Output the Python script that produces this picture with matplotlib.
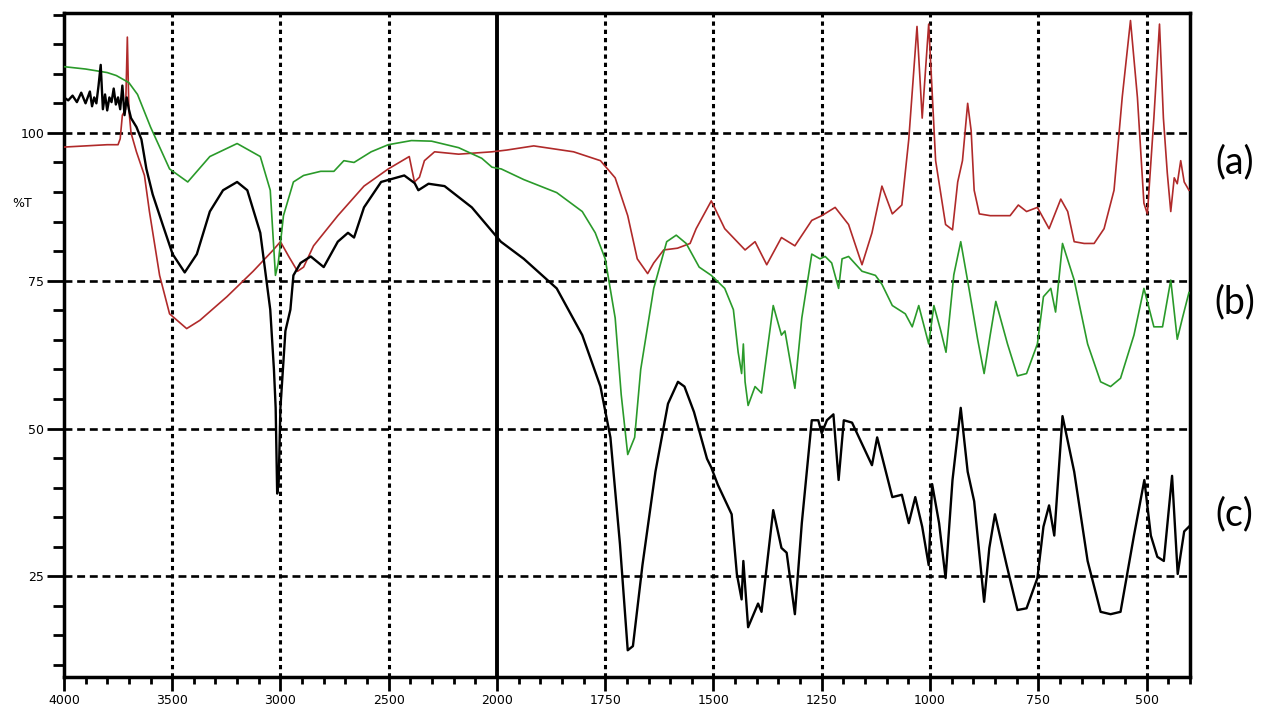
"""FTIR spectra (a), (b), (c) with the usual 2x expanded scale below 2000 cm-1."""

import numpy as np
import matplotlib
matplotlib.use('Agg')
import matplotlib.pyplot as plt

# Spectrum (a), red
wn_a = [4000, 3900, 3800, 3750, 3740, 3730, 3715, 3707, 3700, 3690, 3665, 3628,
        3605, 3558, 3512, 3433, 3372, 3247, 3126, 3033, 3000, 2960, 2921, 2893,
        2847, 2735, 2614, 2502, 2405, 2381, 2358, 2335, 2288, 2177, 2023, 1977,
        1915, 1823, 1761, 1727, 1698, 1676, 1652, 1638, 1615, 1583, 1554, 1540,
        1505, 1474, 1427, 1404, 1377, 1343, 1312, 1273, 1250, 1219, 1188, 1157,
        1134, 1111, 1087, 1065, 1049, 1030, 1018, 1003, 987, 964, 948, 936, 925,
        913, 905, 898, 886, 861, 815, 796, 777, 752, 725, 698, 682, 667, 644,
        621, 598, 575, 556, 537, 521, 506, 498, 483, 470, 461, 452, 444, 436,
        429, 421, 413, 402]
t_a = [97.6, 97.8, 98.0, 98.0, 99.0, 103.0, 104.0, 116.2, 104.0, 100.0, 96.8, 92.8,
       86.7, 75.9, 69.4, 66.9, 68.3, 72.3, 76.6, 80.2, 81.6, 79.0, 76.6, 77.3,
       80.9, 86.0, 91.0, 93.9, 96.0, 91.7, 92.5, 95.3, 96.8, 96.4, 96.8, 97.1,
       97.8, 96.8, 95.3, 92.4, 86.0, 78.7, 76.2, 78.0, 80.2, 80.5, 81.3, 83.8,
       88.5, 83.8, 80.2, 81.6, 77.7, 82.3, 80.9, 85.2, 86.0, 87.4, 84.5, 77.7,
       83.1, 91.0, 86.3, 87.8, 98.9, 118.0, 102.5, 118.4, 95.3, 84.5, 83.6, 91.7, 95.3,
       105.0, 100.4, 90.3, 86.3, 86.0, 86.0, 87.8, 86.7, 87.4, 83.8, 88.8, 86.7, 81.6, 81.3,
       81.3, 83.8, 90.3, 106.1, 119.0, 106.0, 88.1, 86.3, 102.5, 118.4, 102.5, 93.2, 86.7, 92.4,
       91.4, 95.3, 91.7, 90.3]

# Spectrum (b), green
wn_b = [4000, 3900, 3800, 3758, 3700, 3660, 3600, 3512, 3428, 3326, 3200, 3093,
        3047, 3023, 3010, 2986, 2940, 2893, 2814, 2753, 2707, 2660, 2581, 2502,
        2395, 2302, 2177, 2070, 2023, 1990, 1938, 1862, 1803, 1773, 1750, 1727,
        1713, 1698, 1682, 1668, 1638, 1608, 1586, 1563, 1533, 1505, 1474, 1454,
        1443, 1435, 1431, 1427, 1420, 1404, 1389, 1362, 1343, 1335, 1312, 1296,
        1273, 1254, 1242, 1227, 1211, 1203, 1188, 1157, 1126, 1111, 1087, 1057,
        1041, 1026, 1003, 991, 975, 963, 955, 945, 929, 910, 890, 875, 861, 848,
        821, 798, 777, 752, 738, 721, 710, 694, 667, 636, 606, 583, 560, 529,
        506, 483, 463, 444, 429, 417, 402]
t_b = [111.2, 110.8, 110.2, 109.7, 108.5, 106.5, 101.0, 93.9, 91.7, 96.0, 98.2, 96.0,
       90.3, 75.9, 78.0, 86.0, 91.7, 92.8, 93.5, 93.5, 95.3, 95.0, 96.8, 98.0,
       98.7, 98.6, 97.5, 95.7, 94.2, 93.9, 92.1, 89.9, 86.7, 83.1, 78.7, 68.7,
       55.7, 45.6, 48.5, 60.0, 73.7, 81.6, 82.7, 81.3, 77.3, 75.9, 73.7, 70.1,
       62.9, 59.3, 64.3, 57.9, 53.9, 57.1, 56.0, 70.8, 65.8, 66.5, 56.8, 68.7,
       79.5, 78.7, 79.1, 78.0, 73.7, 78.7, 79.1, 76.6, 75.9, 74.4, 70.8, 69.4,
       67.2, 70.8, 64.3, 70.8, 66.5, 62.9, 68.7, 76.0, 81.6, 73.7, 65.1, 59.3, 65.8, 71.5,
       64.3, 58.9, 59.3, 64.3, 72.3, 73.7, 69.7, 81.3, 75.1, 64.3, 57.9, 57.1, 58.5, 65.8,
       73.7, 67.2, 67.2, 75.1, 65.1, 68.7, 73.0]

# Spectrum (c), black
wn_c = [4000, 3980, 3960, 3940, 3920, 3900, 3880, 3870, 3860, 3850, 3840, 3830,
        3820, 3810, 3800, 3790, 3780, 3770, 3760, 3750, 3740, 3730, 3720, 3710,
        3700, 3690, 3665, 3642, 3619, 3590, 3544, 3498, 3442, 3386, 3326, 3265,
        3200, 3153, 3093, 3047, 3030, 3022, 3015, 3008, 3000, 2985, 2977, 2954,
        2940, 2907, 2860, 2800, 2735, 2688, 2660, 2614, 2535, 2428, 2380, 2363,
        2316, 2242, 2116, 1991, 1938, 1862, 1803, 1761, 1738, 1716, 1698, 1686,
        1664, 1634, 1605, 1582, 1567, 1545, 1515, 1505, 1490, 1458, 1446, 1435,
        1431, 1420, 1397, 1389, 1362, 1343, 1331, 1312, 1296, 1273, 1258, 1250,
        1238, 1223, 1211, 1199, 1180, 1150, 1134, 1122, 1087, 1065, 1049, 1034,
        1018, 1003, 995, 979, 964, 948, 929, 913, 898, 875, 863, 850, 823, 798,
        777, 752, 738, 725, 713, 694, 667, 636, 606, 583, 560, 529, 505, 490,
        475, 460, 441, 428, 413, 402]
t_c = [106.0, 105.5, 106.3, 105.2, 106.8, 105.0, 107.0, 104.5, 106.0, 105.0, 108.0, 111.5,
       104.0, 106.5, 103.8, 106.0, 105.2, 107.5, 104.8, 106.0, 104.0, 108.0, 103.0, 106.0,
       104.0, 102.5, 101.0, 98.9, 93.9, 89.6, 84.5, 79.5, 76.4, 79.5, 86.7, 90.3,
       91.7, 90.3, 83.1, 70.1, 60.0, 53.5, 39.0, 41.0, 53.5, 62.0, 66.5, 70.1,
       75.9, 78.0, 79.1, 77.3, 81.6, 83.1, 82.3, 87.4, 91.7, 92.8, 91.5, 90.3,
       91.4, 91.0, 87.4, 81.6, 78.7, 73.7, 65.8, 57.1, 48.5, 30.5, 12.5, 13.2,
       26.9, 42.7, 54.2, 57.9, 57.1, 52.8, 44.9, 43.4, 40.5, 35.5, 25.4, 21.1,
       27.6, 16.4, 20.4, 19.0, 36.2, 29.8, 29.0, 18.6, 34.0, 51.4, 51.4, 49.2,
       51.4, 52.4, 41.3, 51.4, 51.0, 46.3, 43.8, 48.5, 38.4, 38.8, 34.0, 38.4,
       33.4, 26.9, 40.6, 34.0, 24.7, 41.3, 53.5, 42.7, 37.7, 20.7, 29.8, 35.5, 26.9, 19.3,
       19.6, 24.7, 33.4, 37.0, 31.9, 52.1, 42.7, 27.6, 19.0, 18.6, 19.0, 31.9, 41.3, 31.9,
       28.3, 27.6, 42.0, 25.4, 32.6, 33.4]

major_x = [4000, 3500, 3000, 2500, 2000, 1750, 1500, 1250, 1000, 750, 500]
major_y = [25, 50, 75, 100]
labels = ['(a)', '(b)', '(c)']


def forward(x):
    x = np.asarray(x, dtype=float)
    return np.where(x >= 2000, x, 2 * x - 2000)


def inverse(u):
    u = np.asarray(u, dtype=float)
    return np.where(u >= 2000, u, (u + 2000) / 2)


fig = plt.figure(figsize=(12.78, 7.14), dpi=100)
ax = fig.add_axes([0.050, 0.052, 0.881, 0.930])
ax.set_xscale('function', functions=(forward, inverse))

# grid drawn by hand so 2000 can be a solid line
for xv in major_x[1:]:
    if xv == 2000:
        ax.axvline(xv, color='black', lw=2.8, zorder=1)
    else:
        ax.axvline(xv, color='black', lw=2.2, ls=(0, (1.4, 1.3)), zorder=1)
for yv in major_y:
    ax.axhline(yv, color='black', lw=1.9, ls=(0, (3.0, 1.8)), zorder=1)

ax.plot(wn_a, t_a, color='#b02a2a', lw=1.2, zorder=3)
ax.plot(wn_b, t_b, color='#2a9a2a', lw=1.2, zorder=3)
ax.plot(wn_c, t_c, color='black', lw=1.7, zorder=4)

ax.set_xlim(4000, 400)
ax.set_ylim(8, 120.3)

ax.set_xticks(major_x)
ax.set_xticks(list(range(4000, 2000, -100)) + list(range(2000, 399, -50)), minor=True)
ax.set_yticks(major_y)
ax.set_yticks(list(range(10, 121, 5)), minor=True)
ax.set_xticklabels([str(v) for v in major_x])
ax.set_yticklabels([str(v) for v in major_y])

ax.tick_params(axis='both', which='major', direction='out', width=2, labelsize=9)
ax.tick_params(axis='x', which='major', length=10, pad=2)
ax.tick_params(axis='y', which='major', length=12, pad=2)
ax.tick_params(axis='x', which='minor', direction='out', length=5, width=2)
ax.tick_params(axis='y', which='minor', direction='out', length=8, width=2)

for sp in ax.spines.values():
    sp.set_linewidth(2.5)

ax.text(-0.037, 88, '%T', transform=ax.get_yaxis_transform(),
        ha='center', va='center', fontsize=9)

label_y = [0.773, 0.576, 0.280]
for lab, yy in zip(labels, label_y):
    fig.text(0.966, yy, lab, ha='center', va='center', fontsize=27,
             family=['Lato', 'DejaVu Sans'])

fig.savefig('out.png', dpi=100)
